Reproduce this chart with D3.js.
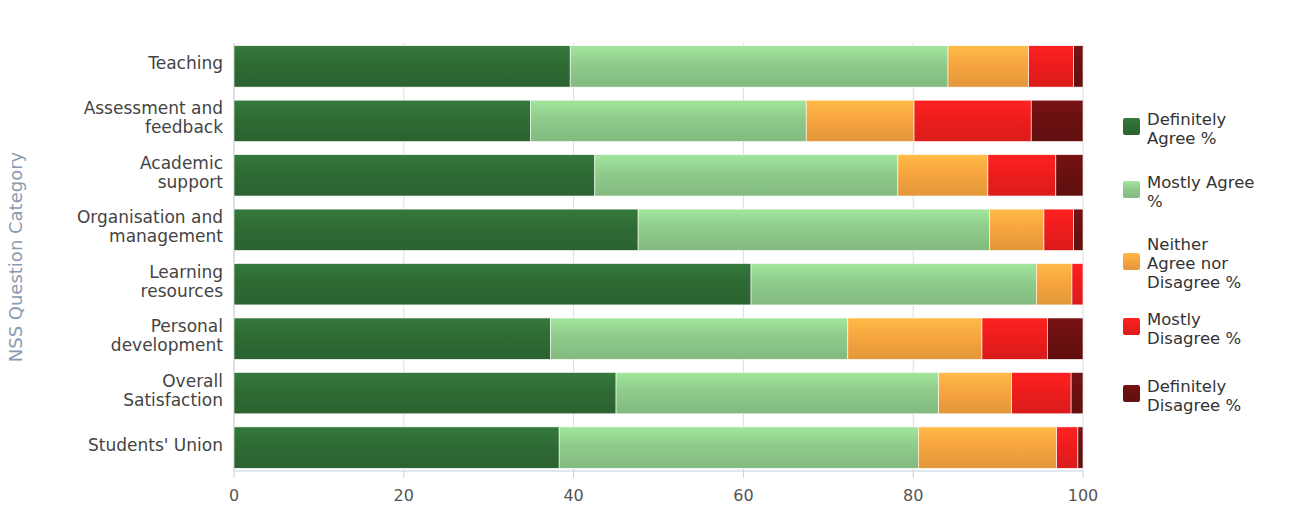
<!DOCTYPE html>
<html><head><meta charset="utf-8">
<script src="https://cdn.jsdelivr.net/npm/d3@7"></script>
<style>body{margin:0;background:#fff;font-family:"DejaVu Sans",sans-serif}</style>
</head><body><svg id="c" width="1294" height="528"></svg>
<script>
const categories=["Teaching","Assessment and feedback","Academic support","Organisation and management","Learning resources","Personal development","Overall Satisfaction","Students' Union"];
const catLines=[["Teaching"],["Assessment and","feedback"],["Academic","support"],["Organisation and","management"],["Learning","resources"],["Personal","development"],["Overall","Satisfaction"],["Students' Union"]];
const seriesNames=["Definitely Agree %","Mostly Agree %","Neither Agree nor Disagree %","Mostly Disagree %","Definitely Disagree %"];
const legendLines=[["Definitely","Agree %"],["Mostly Agree","%"],["Neither","Agree nor","Disagree %"],["Mostly","Disagree %"],["Definitely","Disagree %"]];
const definitelyAgree=[39.6,34.9,42.5,47.6,60.9,37.3,45.0,38.3];
const mostlyAgree=[44.5,32.5,35.7,41.4,33.6,35.0,38.0,42.3];
const neither=[9.5,12.7,10.6,6.4,4.2,15.8,8.6,16.3];
const mostlyDisagree=[5.3,13.8,8.0,3.5,1.3,7.7,7.0,2.5];
const definitelyDisagree=[1.1,6.1,3.2,1.1,0,4.2,1.4,0.6];
const xTicks=[0,20,40,60,80,100];
const colors=["#2f6b35","#8fcb8b","#f7a53f","#ee1d1d","#6a1010"];
const series=[definitelyAgree,mostlyAgree,neither,mostlyDisagree,definitelyDisagree];

const svg=d3.select("#c");
const defs=svg.append("defs");
colors.forEach((c,i)=>{const g=defs.append("linearGradient").attr("id","g"+i).attr("x1",0).attr("y1",0).attr("x2",0).attr("y2",1);
 g.append("stop").attr("offset","0%").attr("stop-color",d3.color(c).brighter(0.35));
 g.append("stop").attr("offset","45%").attr("stop-color",c);
 g.append("stop").attr("offset","100%").attr("stop-color",d3.color(c).darker(0.25));});
const x=d3.scaleLinear().domain([0,100]).range([234,1083]);
const y=d3.scaleBand().domain(categories).range([43,471]).paddingInner(0.24).paddingOuter(0.05);
svg.append("g").selectAll("line").data(xTicks).join("line").attr("x1",d=>x(d)).attr("x2",d=>x(d)).attr("y1",43).attr("y2",471).attr("stroke","#ddd");
svg.append("line").attr("x1",234).attr("x2",234).attr("y1",43).attr("y2",471).attr("stroke","#c0d0e0");
const stacked=d3.stack().keys(d3.range(5))(categories.map((c,i)=>series.map(s=>s[i])));
stacked.forEach((layer,k)=>{svg.append("g").selectAll("rect").data(layer).join("rect")
 .attr("x",d=>x(d[0])).attr("width",d=>x(d[1])-x(d[0])).attr("y",(d,i)=>y(categories[i])).attr("height",y.bandwidth())
 .attr("fill",`url(#g${k})`).attr("stroke","#fff").attr("stroke-width",0.6);});
svg.append("line").attr("x1",234).attr("x2",1083).attr("y1",471).attr("y2",471).attr("stroke","#c0d0e0");
svg.append("g").selectAll("line").data(xTicks).join("line").attr("x1",d=>x(d)).attr("x2",d=>x(d)).attr("y1",471).attr("y2",478).attr("stroke","#c0d0e0");
svg.append("g").selectAll("text").data(xTicks).join("text").attr("x",d=>x(d)).attr("y",501).attr("text-anchor","middle").attr("font-size",16).attr("fill","#555").text(d=>d);
categories.forEach((c,i)=>{const lines=catLines[i];const cy=y(c)+y.bandwidth()/2;
 const t=svg.append("text").attr("text-anchor","end").attr("font-size",17).attr("fill","#444");
 lines.forEach((l,j)=>t.append("tspan").attr("x",223).attr("y",cy+3+(j-(lines.length-1)/2)*19).text(l));});
svg.append("text").attr("transform","translate(22,257) rotate(-90)").attr("text-anchor","middle").attr("font-size",18).attr("fill","#8a9ab0").text("NSS Question Category");
legendLines.forEach((ls,i)=>{const ly=[130,193,265,330,397][i];
 svg.append("rect").attr("x",1123).attr("y",ly-12).attr("width",17).attr("height",17).attr("rx",2).attr("fill",`url(#g${i})`);
 const t=svg.append("text").attr("font-size",16.5).attr("fill","#333");
 ls.forEach((l,j)=>t.append("tspan").attr("x",1147).attr("y",ly-(ls.length-1)*9.5+j*19+4).text(l));});
</script></body></html>
